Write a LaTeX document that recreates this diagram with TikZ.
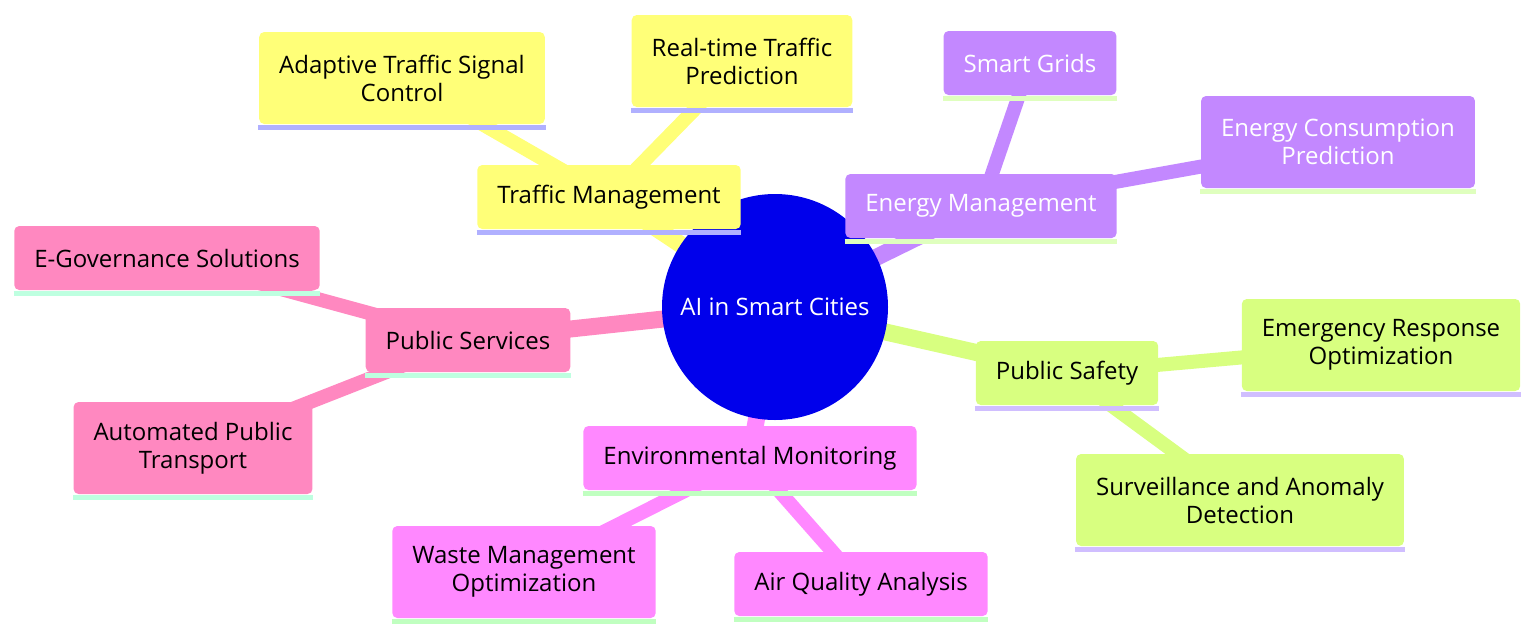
\documentclass[tikz,border=0pt]{standalone}
\usepackage{fontspec}
\setmainfont{Open Sans}
\pgfdeclarelayer{edges}
\pgfsetlayers{edges,main}

\definecolor{rootblue}{RGB}{0,0,235}
\definecolor{trafficfill}{RGB}{255,255,120}
\definecolor{trafficline}{RGB}{176,176,255}
\definecolor{energyfill}{RGB}{195,136,255}
\definecolor{energyline}{RGB}{223,255,190}
\definecolor{safetyfill}{RGB}{216,255,128}
\definecolor{safetyline}{RGB}{208,190,255}
\definecolor{envfill}{RGB}{255,136,255}
\definecolor{envline}{RGB}{192,255,192}
\definecolor{servfill}{RGB}{255,136,192}
\definecolor{servline}{RGB}{190,255,224}

\tikzset{every picture/.style={line width=0.75pt}}
\tikzset{
  mmnode/.style={rectangle, rounded corners=2.5pt, fill=#1fill, inner xsep=10pt, inner ysep=0pt,
    minimum height=32pt, align=center, font=\fontsize{12}{14}\selectfont},
  mmtall/.style={minimum height=46pt},
  mmedge/.style={line width=8.5pt, draw=#1fill},
  mmsub/.style={line width=7pt, draw=#1fill},
  mmbar/.style={line width=2.5pt, draw=#1line},
}

\begin{document}
\begin{tikzpicture}[x=0.5pt,y=0.5pt,yscale=-1,xscale=1]
\useasboundingbox (0,0) rectangle (1536,632);

% Root Node
\node [circle, fill=rootblue, text=white, minimum size=113pt, inner sep=0pt, font=\fontsize{12}{14}\selectfont] (root) at (775,307) {AI in Smart Cities};

% Text Node
\node [mmnode=traffic] (tm) at (609,197) {Traffic Management};
% Text Node
\node [mmnode=traffic, mmtall] (atsc) at (402,78) {Adaptive Traffic Signal\\Control};
% Text Node
\node [mmnode=traffic, mmtall] (rttp) at (742,61) {Real-time Traffic\\Prediction};

% Text Node
\node [mmnode=energy, text=white] (em) at (981,206) {Energy Management};
% Text Node
\node [mmnode=energy, text=white] (sg) at (1030,63) {Smart Grids};
% Text Node
\node [mmnode=energy, text=white, mmtall] (ecp) at (1338,142) {Energy Consumption\\Prediction};

% Text Node
\node [mmnode=safety] (psf) at (1067,373) {Public Safety};
% Text Node
\node [mmnode=safety, mmtall] (ero) at (1381,345) {Emergency Response\\Optimization};
% Text Node
\node [mmnode=safety, mmtall] (sad) at (1240,500) {Surveillance and Anomaly\\Detection};

% Text Node
\node [mmnode=env] (env) at (750,458) {Environmental Monitoring};
% Text Node
\node [mmnode=env, mmtall] (wmo) at (524,572) {Waste Management\\Optimization};
% Text Node
\node [mmnode=env] (aqa) at (861,584) {Air Quality Analysis};

% Text Node
\node [mmnode=serv] (ps) at (468,340) {Public Services};
% Text Node
\node [mmnode=serv] (egs) at (167,258) {E-Governance Solutions};
% Text Node
\node [mmnode=serv, mmtall] (apt) at (193,448) {Automated Public\\Transport};

%Bottom Bars
\foreach \n/\c in {tm/traffic, atsc/traffic, rttp/traffic, em/energy, sg/energy, ecp/energy,
    psf/safety, ero/safety, sad/safety, env/env, wmo/env, aqa/env, ps/serv, egs/serv, apt/serv}
  \draw [mmbar=\c] ([yshift=1.25pt]\n.south west) -- ([yshift=1.25pt]\n.south east);

\begin{pgfonlayer}{edges}
%Straight Lines
\draw [mmedge=traffic] (root.center) -- (tm.center);
\draw [mmedge=energy] (root.center) -- (em.center);
\draw [mmedge=safety] (root.center) -- (psf.center);
\draw [mmedge=env] (root.center) -- (env.center);
\draw [mmedge=serv] (root.center) -- (ps.center);
%Straight Lines
\draw [mmsub=traffic] (tm.center) -- (atsc.center);
\draw [mmsub=traffic] (tm.center) -- (rttp.center);
\draw [mmsub=energy] (em.center) -- (sg.center);
\draw [mmsub=energy] (em.center) -- (ecp.center);
\draw [mmsub=safety] (psf.center) -- (ero.center);
\draw [mmsub=safety] (psf.center) -- (sad.center);
\draw [mmsub=env] (env.center) -- (wmo.center);
\draw [mmsub=env] (env.center) -- (aqa.center);
\draw [mmsub=serv] (ps.center) -- (egs.center);
\draw [mmsub=serv] (ps.center) -- (apt.center);
\end{pgfonlayer}

\end{tikzpicture}
\end{document}
